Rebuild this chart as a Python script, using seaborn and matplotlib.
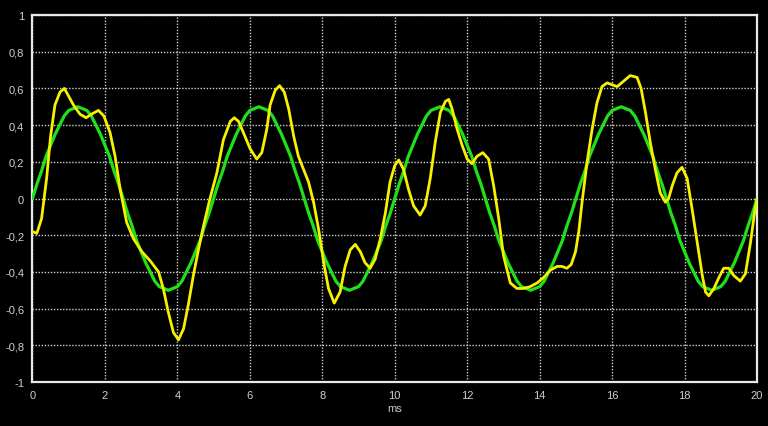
import pandas as pd
import matplotlib
matplotlib.use("Agg")
import matplotlib.pyplot as plt
import seaborn as sns

# green reference wave, read every 0.125 ms
green_t = [i * 0.125 for i in range(161)]
green_half = [0.0, 0.08, 0.15, 0.23, 0.29, 0.35, 0.40, 0.45, 0.48, 0.49,
              0.50, 0.49, 0.48, 0.45, 0.40, 0.35, 0.29, 0.23, 0.15, 0.08]
green_v = (green_half + [-v for v in green_half]) * 4 + [0.0]

yellow_t = [0.0, 0.12, 0.25, 0.39, 0.5, 0.62, 0.76, 0.88, 0.99, 1.13,
            1.31, 1.48, 1.63, 1.82, 1.97, 2.14, 2.28, 2.42, 2.6, 2.79,
            3.02, 3.25, 3.48, 3.61, 3.75, 3.89, 4.03, 4.17, 4.30, 4.44,
            4.58, 4.72, 4.9, 5.09, 5.27, 5.46, 5.57, 5.69, 5.82, 6.01,
            6.19, 6.33, 6.47, 6.56, 6.70, 6.82, 6.95, 7.07, 7.21, 7.34,
            7.48, 7.62, 7.76, 7.90, 8.04, 8.17, 8.33, 8.49, 8.63, 8.77,
            8.91, 9.05, 9.18, 9.32, 9.46, 9.60, 9.74, 9.87, 10.0, 10.11,
            10.24, 10.38, 10.52, 10.70, 10.84, 10.98, 11.12, 11.26, 11.40, 11.49,
            11.58, 11.72, 11.86, 12.0, 12.13, 12.27, 12.43, 12.59, 12.73, 12.87,
            13.0, 13.19, 13.37, 13.56, 13.74, 13.93, 14.11, 14.30, 14.48, 14.62,
            14.75, 14.87, 14.99, 15.08, 15.17, 15.31, 15.45, 15.58, 15.72, 15.86,
            16.0, 16.14, 16.32, 16.50, 16.69, 16.80, 16.92, 17.05, 17.19, 17.33,
            17.47, 17.56, 17.66, 17.79, 17.93, 18.07, 18.21, 18.35, 18.49, 18.58,
            18.67, 18.81, 18.95, 19.08, 19.22, 19.36, 19.54, 19.68, 19.82, 19.93,
            20.0]
yellow_v = [-0.18, -0.19, -0.11, 0.11, 0.34, 0.51, 0.58, 0.60, 0.56, 0.51,
            0.46, 0.44, 0.46, 0.48, 0.45, 0.36, 0.23, 0.05, -0.13, -0.22,
            -0.29, -0.34, -0.40, -0.49, -0.62, -0.73, -0.77, -0.71, -0.58, -0.42,
            -0.28, -0.15, 0.00, 0.14, 0.32, 0.42, 0.44, 0.42, 0.36, 0.27,
            0.215, 0.25, 0.38, 0.51, 0.59, 0.615, 0.58, 0.49, 0.34, 0.23,
            0.16, 0.09, -0.02, -0.17, -0.35, -0.49, -0.57, -0.51, -0.37, -0.28,
            -0.25, -0.29, -0.35, -0.38, -0.33, -0.22, -0.08, 0.09, 0.18, 0.21,
            0.16, 0.05, -0.04, -0.09, -0.04, 0.11, 0.31, 0.47, 0.53, 0.54,
            0.49, 0.38, 0.29, 0.215, 0.19, 0.23, 0.25, 0.215, 0.07, -0.11,
            -0.31, -0.46, -0.49, -0.49, -0.48, -0.46, -0.43, -0.39, -0.37, -0.37,
            -0.38, -0.36, -0.29, -0.18, -0.02, 0.20, 0.38, 0.52, 0.61, 0.63,
            0.62, 0.61, 0.64, 0.67, 0.66, 0.60, 0.47, 0.31, 0.16, 0.03,
            -0.02, 0.00, 0.07, 0.14, 0.17, 0.11, -0.06, -0.24, -0.42, -0.51,
            -0.53, -0.49, -0.43, -0.38, -0.38, -0.42, -0.45, -0.41, -0.24, -0.08,
            0.0]

x_ticks = [0, 2, 4, 6, 8, 10, 12, 14, 16, 18, 20]
y_ticks = [-1, -0.8, -0.6, -0.4, -0.2, 0, 0.2, 0.4, 0.6, 0.8, 1]
y_tick_labels = ["-1", "-0,8", "-0,6", "-0,4", "-0,2", "0", "0,2", "0,4", "0,6", "0,8", "1"]

sns.set_style("dark")
plt.rcParams["font.family"] = ["Liberation Sans", "DejaVu Sans"]

fig = plt.figure(figsize=(7.68, 4.27), dpi=100, facecolor="black")
ax = fig.add_axes([0.0423, 0.103, 0.9434, 0.8595])
ax.set_facecolor("black")

green_df = pd.DataFrame({"t": green_t, "v": green_v})
yellow_df = pd.DataFrame({"t": yellow_t, "v": yellow_v})

sns.lineplot(data=green_df, x="t", y="v", ax=ax, color="#1fe01a", linewidth=2.3,
             zorder=3, solid_joinstyle="round", solid_capstyle="round")
sns.lineplot(data=yellow_df, x="t", y="v", ax=ax, color="#f7f000", linewidth=2.0,
             zorder=4, solid_joinstyle="round", solid_capstyle="round")

ax.set_xlim(0, 20)
ax.set_ylim(-1, 1)
ax.set_xticks(x_ticks)
ax.set_yticks(y_ticks)
ax.set_yticklabels(y_tick_labels)
ax.grid(True, color="#d0d0d0", linestyle=(0, (1.0, 1.2)), linewidth=1.0, zorder=1)
ax.tick_params(axis="both", length=0, labelsize=8, colors="#d0d0d0", pad=6)
for side in ax.spines.values():
    side.set_color("#e8e8e8")
    side.set_linewidth(1.6)
ax.set_xlabel("ms", color="#c8c8c8", fontsize=8, labelpad=2)
ax.set_ylabel("")

fig.savefig("out.png", dpi=100, facecolor="black")
